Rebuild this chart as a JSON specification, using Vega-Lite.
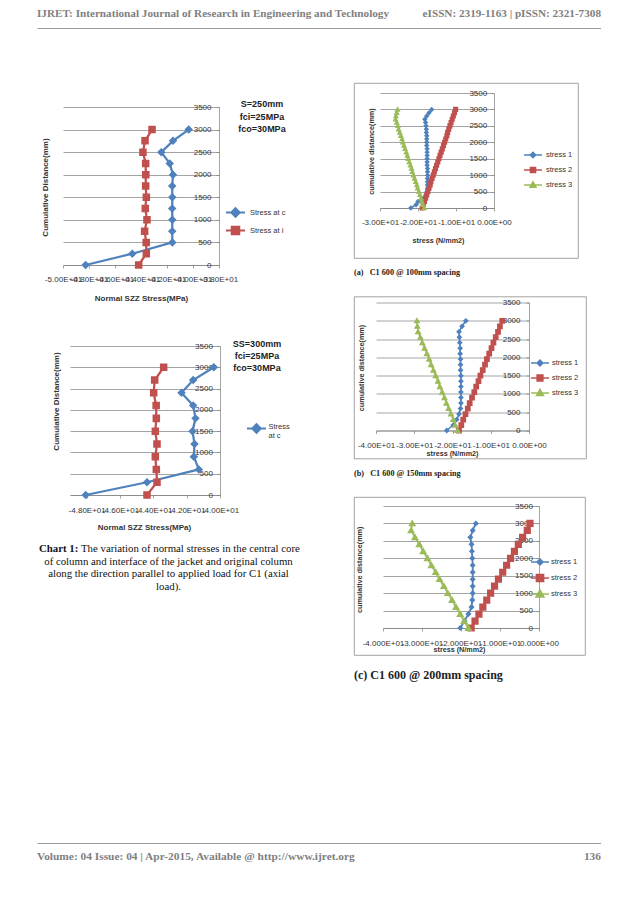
{
  "$schema": "https://vega.github.io/schema/vega-lite/v6.json",
  "padding": {"left": 37, "top": 0, "right": 0, "bottom": 0},
  "background": "white",
  "spacing": 54,
  "resolve": {"scale": {"fill": "independent", "stroke": "independent", "shape": "independent"}},
  "datasets": {
    "c1": [
      {"d":0,"v":-48.26,"s":"Stress at c"},{"d":250,"v":-44.67,"s":"Stress at c"},{"d":500,"v":-41.59,"s":"Stress at c"},{"d":750,"v":-41.6,"s":"Stress at c"},{"d":1000,"v":-41.59,"s":"Stress at c"},{"d":1250,"v":-41.6,"s":"Stress at c"},{"d":1500,"v":-41.59,"s":"Stress at c"},{"d":1750,"v":-41.6,"s":"Stress at c"},{"d":2000,"v":-41.54,"s":"Stress at c"},{"d":2250,"v":-41.79,"s":"Stress at c"},{"d":2500,"v":-42.44,"s":"Stress at c"},{"d":2750,"v":-41.54,"s":"Stress at c"},{"d":3000,"v":-40.33,"s":"Stress at c"},
      {"d":0,"v":-44.18,"s":"Stress at i"},{"d":250,"v":-43.59,"s":"Stress at i"},{"d":500,"v":-43.6,"s":"Stress at i"},{"d":750,"v":-43.72,"s":"Stress at i"},{"d":1000,"v":-43.54,"s":"Stress at i"},{"d":1250,"v":-43.67,"s":"Stress at i"},{"d":1500,"v":-43.59,"s":"Stress at i"},{"d":1750,"v":-43.64,"s":"Stress at i"},{"d":2000,"v":-43.63,"s":"Stress at i"},{"d":2250,"v":-43.64,"s":"Stress at i"},{"d":2500,"v":-43.85,"s":"Stress at i"},{"d":2750,"v":-43.69,"s":"Stress at i"},{"d":3000,"v":-43.15,"s":"Stress at i"}
    ],
    "c2": [
      {"d":0,"v":-48.06,"s":"Stress at c"},{"d":300,"v":-44.38,"s":"Stress at c"},{"d":600,"v":-41.27,"s":"Stress at c"},{"d":900,"v":-41.57,"s":"Stress at c"},{"d":1200,"v":-41.53,"s":"Stress at c"},{"d":1500,"v":-41.65,"s":"Stress at c"},{"d":1800,"v":-41.47,"s":"Stress at c"},{"d":2100,"v":-41.61,"s":"Stress at c"},{"d":2400,"v":-42.31,"s":"Stress at c"},{"d":2700,"v":-41.61,"s":"Stress at c"},{"d":3000,"v":-40.37,"s":"Stress at c"},
      {"d":0,"v":-44.38,"s":"Stress at i"},{"d":300,"v":-43.78,"s":"Stress at i"},{"d":600,"v":-43.82,"s":"Stress at i"},{"d":900,"v":-43.88,"s":"Stress at i"},{"d":1200,"v":-43.78,"s":"Stress at i"},{"d":1500,"v":-43.88,"s":"Stress at i"},{"d":1800,"v":-43.82,"s":"Stress at i"},{"d":2100,"v":-43.83,"s":"Stress at i"},{"d":2400,"v":-43.98,"s":"Stress at i"},{"d":2700,"v":-43.92,"s":"Stress at i"},{"d":3000,"v":-43.38,"s":"Stress at i"}
    ],
    "ca": [
      {"d":0,"v":-21.9,"s":"stress 1"},{"d":100,"v":-20.5,"s":"stress 1"},{"d":200,"v":-20.0,"s":"stress 1"},{"d":300,"v":-18.6,"s":"stress 1"},{"d":400,"v":-17.9,"s":"stress 1"},{"d":500,"v":-17.6,"s":"stress 1"},{"d":600,"v":-17.5,"s":"stress 1"},{"d":700,"v":-17.5,"s":"stress 1"},{"d":800,"v":-17.5,"s":"stress 1"},{"d":900,"v":-17.5,"s":"stress 1"},{"d":1000,"v":-17.5,"s":"stress 1"},{"d":1100,"v":-17.5,"s":"stress 1"},{"d":1200,"v":-17.5,"s":"stress 1"},{"d":1300,"v":-17.6,"s":"stress 1"},{"d":1400,"v":-17.6,"s":"stress 1"},{"d":1500,"v":-17.6,"s":"stress 1"},{"d":1600,"v":-17.6,"s":"stress 1"},{"d":1700,"v":-17.6,"s":"stress 1"},{"d":1800,"v":-17.6,"s":"stress 1"},{"d":1900,"v":-17.7,"s":"stress 1"},{"d":2000,"v":-17.7,"s":"stress 1"},{"d":2100,"v":-17.7,"s":"stress 1"},{"d":2200,"v":-17.7,"s":"stress 1"},{"d":2300,"v":-17.8,"s":"stress 1"},{"d":2400,"v":-17.8,"s":"stress 1"},{"d":2500,"v":-17.9,"s":"stress 1"},{"d":2600,"v":-18.0,"s":"stress 1"},{"d":2700,"v":-18.2,"s":"stress 1"},{"d":2800,"v":-17.7,"s":"stress 1"},{"d":2900,"v":-17.1,"s":"stress 1"},{"d":3000,"v":-16.4,"s":"stress 1"},
      {"d":0,"v":-18.9,"s":"stress 2"},{"d":100,"v":-18.6,"s":"stress 2"},{"d":200,"v":-18.3,"s":"stress 2"},{"d":300,"v":-18.0,"s":"stress 2"},{"d":400,"v":-17.7,"s":"stress 2"},{"d":500,"v":-17.4,"s":"stress 2"},{"d":600,"v":-17.1,"s":"stress 2"},{"d":700,"v":-16.8,"s":"stress 2"},{"d":800,"v":-16.6,"s":"stress 2"},{"d":900,"v":-16.3,"s":"stress 2"},{"d":1000,"v":-16.0,"s":"stress 2"},{"d":1100,"v":-15.7,"s":"stress 2"},{"d":1200,"v":-15.4,"s":"stress 2"},{"d":1300,"v":-15.1,"s":"stress 2"},{"d":1400,"v":-14.8,"s":"stress 2"},{"d":1500,"v":-14.5,"s":"stress 2"},{"d":1600,"v":-14.2,"s":"stress 2"},{"d":1700,"v":-13.9,"s":"stress 2"},{"d":1800,"v":-13.6,"s":"stress 2"},{"d":1900,"v":-13.3,"s":"stress 2"},{"d":2000,"v":-13.0,"s":"stress 2"},{"d":2100,"v":-12.7,"s":"stress 2"},{"d":2200,"v":-12.4,"s":"stress 2"},{"d":2300,"v":-12.2,"s":"stress 2"},{"d":2400,"v":-11.9,"s":"stress 2"},{"d":2500,"v":-11.6,"s":"stress 2"},{"d":2600,"v":-11.3,"s":"stress 2"},{"d":2700,"v":-11.0,"s":"stress 2"},{"d":2800,"v":-10.7,"s":"stress 2"},{"d":2900,"v":-10.4,"s":"stress 2"},{"d":3000,"v":-10.1,"s":"stress 2"},
      {"d":0,"v":-18.4,"s":"stress 3"},{"d":100,"v":-18.7,"s":"stress 3"},{"d":200,"v":-19.0,"s":"stress 3"},{"d":300,"v":-19.2,"s":"stress 3"},{"d":400,"v":-19.5,"s":"stress 3"},{"d":500,"v":-19.8,"s":"stress 3"},{"d":600,"v":-20.1,"s":"stress 3"},{"d":700,"v":-20.3,"s":"stress 3"},{"d":800,"v":-20.6,"s":"stress 3"},{"d":900,"v":-20.9,"s":"stress 3"},{"d":1000,"v":-21.2,"s":"stress 3"},{"d":1100,"v":-21.5,"s":"stress 3"},{"d":1200,"v":-21.7,"s":"stress 3"},{"d":1300,"v":-22.0,"s":"stress 3"},{"d":1400,"v":-22.3,"s":"stress 3"},{"d":1500,"v":-22.6,"s":"stress 3"},{"d":1600,"v":-22.8,"s":"stress 3"},{"d":1700,"v":-23.1,"s":"stress 3"},{"d":1800,"v":-23.4,"s":"stress 3"},{"d":1900,"v":-23.7,"s":"stress 3"},{"d":2000,"v":-24.0,"s":"stress 3"},{"d":2100,"v":-24.2,"s":"stress 3"},{"d":2200,"v":-24.5,"s":"stress 3"},{"d":2300,"v":-24.8,"s":"stress 3"},{"d":2400,"v":-25.1,"s":"stress 3"},{"d":2500,"v":-25.3,"s":"stress 3"},{"d":2600,"v":-25.6,"s":"stress 3"},{"d":2700,"v":-25.9,"s":"stress 3"},{"d":2800,"v":-25.8,"s":"stress 3"},{"d":2900,"v":-25.6,"s":"stress 3"},{"d":3000,"v":-25.4,"s":"stress 3"}
    ],
    "cb": [
      {"d":0,"v":-21.5,"s":"stress 1"},{"d":150,"v":-19.8,"s":"stress 1"},{"d":300,"v":-18.9,"s":"stress 1"},{"d":450,"v":-18.3,"s":"stress 1"},{"d":600,"v":-17.9,"s":"stress 1"},{"d":750,"v":-17.8,"s":"stress 1"},{"d":900,"v":-17.8,"s":"stress 1"},{"d":1050,"v":-17.8,"s":"stress 1"},{"d":1200,"v":-17.8,"s":"stress 1"},{"d":1350,"v":-17.8,"s":"stress 1"},{"d":1500,"v":-17.8,"s":"stress 1"},{"d":1650,"v":-17.9,"s":"stress 1"},{"d":1800,"v":-17.9,"s":"stress 1"},{"d":1950,"v":-17.9,"s":"stress 1"},{"d":2100,"v":-18.0,"s":"stress 1"},{"d":2250,"v":-18.0,"s":"stress 1"},{"d":2400,"v":-18.1,"s":"stress 1"},{"d":2550,"v":-18.2,"s":"stress 1"},{"d":2700,"v":-18.3,"s":"stress 1"},{"d":2850,"v":-17.5,"s":"stress 1"},{"d":3000,"v":-16.5,"s":"stress 1"},
      {"d":0,"v":-18.3,"s":"stress 2"},{"d":150,"v":-17.7,"s":"stress 2"},{"d":300,"v":-17.2,"s":"stress 2"},{"d":450,"v":-16.6,"s":"stress 2"},{"d":600,"v":-16.0,"s":"stress 2"},{"d":750,"v":-15.5,"s":"stress 2"},{"d":900,"v":-14.9,"s":"stress 2"},{"d":1050,"v":-14.3,"s":"stress 2"},{"d":1200,"v":-13.8,"s":"stress 2"},{"d":1350,"v":-13.2,"s":"stress 2"},{"d":1500,"v":-12.7,"s":"stress 2"},{"d":1650,"v":-12.1,"s":"stress 2"},{"d":1800,"v":-11.5,"s":"stress 2"},{"d":1950,"v":-11.0,"s":"stress 2"},{"d":2100,"v":-10.4,"s":"stress 2"},{"d":2250,"v":-9.8,"s":"stress 2"},{"d":2400,"v":-9.3,"s":"stress 2"},{"d":2550,"v":-8.7,"s":"stress 2"},{"d":2700,"v":-8.1,"s":"stress 2"},{"d":2850,"v":-7.6,"s":"stress 2"},{"d":3000,"v":-7.0,"s":"stress 2"},
      {"d":0,"v":-18.7,"s":"stress 3"},{"d":150,"v":-19.3,"s":"stress 3"},{"d":300,"v":-19.8,"s":"stress 3"},{"d":450,"v":-20.4,"s":"stress 3"},{"d":600,"v":-21.0,"s":"stress 3"},{"d":750,"v":-21.6,"s":"stress 3"},{"d":900,"v":-22.1,"s":"stress 3"},{"d":1050,"v":-22.7,"s":"stress 3"},{"d":1200,"v":-23.3,"s":"stress 3"},{"d":1350,"v":-23.8,"s":"stress 3"},{"d":1500,"v":-24.4,"s":"stress 3"},{"d":1650,"v":-25.0,"s":"stress 3"},{"d":1800,"v":-25.6,"s":"stress 3"},{"d":1950,"v":-26.1,"s":"stress 3"},{"d":2100,"v":-26.7,"s":"stress 3"},{"d":2250,"v":-27.3,"s":"stress 3"},{"d":2400,"v":-27.9,"s":"stress 3"},{"d":2550,"v":-28.4,"s":"stress 3"},{"d":2700,"v":-29.0,"s":"stress 3"},{"d":2850,"v":-29.2,"s":"stress 3"},{"d":3000,"v":-29.3,"s":"stress 3"}
    ],
    "cc": [
      {"d":0,"v":-20.2,"s":"stress 1"},{"d":200,"v":-19.1,"s":"stress 1"},{"d":400,"v":-18.1,"s":"stress 1"},{"d":600,"v":-17.3,"s":"stress 1"},{"d":800,"v":-17.1,"s":"stress 1"},{"d":1000,"v":-17.0,"s":"stress 1"},{"d":1200,"v":-17.0,"s":"stress 1"},{"d":1400,"v":-17.0,"s":"stress 1"},{"d":1600,"v":-17.0,"s":"stress 1"},{"d":1800,"v":-17.0,"s":"stress 1"},{"d":2000,"v":-17.1,"s":"stress 1"},{"d":2200,"v":-17.2,"s":"stress 1"},{"d":2400,"v":-17.3,"s":"stress 1"},{"d":2600,"v":-17.6,"s":"stress 1"},{"d":2800,"v":-17.0,"s":"stress 1"},{"d":3000,"v":-16.2,"s":"stress 1"},
      {"d":0,"v":-17.4,"s":"stress 2"},{"d":200,"v":-16.4,"s":"stress 2"},{"d":400,"v":-15.4,"s":"stress 2"},{"d":600,"v":-14.4,"s":"stress 2"},{"d":800,"v":-13.4,"s":"stress 2"},{"d":1000,"v":-12.4,"s":"stress 2"},{"d":1200,"v":-11.4,"s":"stress 2"},{"d":1400,"v":-10.4,"s":"stress 2"},{"d":1600,"v":-9.3,"s":"stress 2"},{"d":1800,"v":-8.3,"s":"stress 2"},{"d":2000,"v":-7.3,"s":"stress 2"},{"d":2200,"v":-6.3,"s":"stress 2"},{"d":2400,"v":-5.3,"s":"stress 2"},{"d":2600,"v":-4.2,"s":"stress 2"},{"d":2800,"v":-3.0,"s":"stress 2"},{"d":3000,"v":-2.3,"s":"stress 2"},
      {"d":0,"v":-18.1,"s":"stress 3"},{"d":200,"v":-19.2,"s":"stress 3"},{"d":400,"v":-20.2,"s":"stress 3"},{"d":600,"v":-21.3,"s":"stress 3"},{"d":800,"v":-22.3,"s":"stress 3"},{"d":1000,"v":-23.4,"s":"stress 3"},{"d":1200,"v":-24.4,"s":"stress 3"},{"d":1400,"v":-25.5,"s":"stress 3"},{"d":1600,"v":-26.5,"s":"stress 3"},{"d":1800,"v":-27.6,"s":"stress 3"},{"d":2000,"v":-28.6,"s":"stress 3"},{"d":2200,"v":-29.7,"s":"stress 3"},{"d":2400,"v":-30.7,"s":"stress 3"},{"d":2600,"v":-31.8,"s":"stress 3"},{"d":2800,"v":-32.8,"s":"stress 3"},{"d":3000,"v":-32.5,"s":"stress 3"}
    ]
  },
  "vconcat": [
    {
      "width": 564, "height": 28,
      "data": {"values": [{"side": "l", "t": "IJRET: International Journal of Research in Engineering and Technology"}, {"side": "r", "t": "eISSN: 2319-1163 | pISSN: 2321-7308"}]},
      "encoding": {
        "x": {"field": "side", "type": "nominal", "scale": {"type": "point", "domain": ["l", "r"], "padding": 0}, "axis": {"orient": "bottom", "labels": false, "ticks": false, "domain": true, "grid": false, "title": null, "domainColor": "#9a9a9a", "domainWidth": 1}},
        "text": {"field": "t", "type": "nominal"}
      },
      "layer": [
        {"transform": [{"filter": "datum.side == 'l'"}], "mark": {"type": "text", "align": "left", "baseline": "middle", "font": "Liberation Serif", "fontSize": 11.2, "fontWeight": "bold", "color": "#7f7f7f"}},
        {"transform": [{"filter": "datum.side == 'r'"}], "mark": {"type": "text", "align": "right", "baseline": "middle", "font": "Liberation Serif", "fontSize": 11.2, "fontWeight": "bold", "color": "#7f7f7f"}}
      ]
    },
    {
      "resolve": {"scale": {"fill": "independent", "stroke": "independent", "shape": "independent"}},
      "spacing": 16,
      "hconcat": [
        {
          "resolve": {"scale": {"fill": "independent", "stroke": "independent", "shape": "independent"}},
          "spacing": 0,
          "bounds": "flush",
          "vconcat": [
            {
              "width": 300, "height": 225,
              "data": {"name": "c1"},
              "title": {"text": ["S=250mm", "fci=25MPa", "fco=30MPa"], "orient": "top", "frame": "group", "anchor": "start", "align": "center", "baseline": "middle", "dx": 225, "offset": -55, "fontSize": 9, "fontWeight": "bold", "font": "Liberation Sans", "lineHeight": 12.3, "color": "#222222"},
              "encoding": {
                "x": {"field": "v", "type": "quantitative", "scale": {"domain": [-50, -38], "range": [26, 182], "nice": false, "zero": false},
                  "axis": {"orient": "bottom", "offset": -43, "values": [-50, -48, -46, -44, -42, -40, -38], "labelExpr": "(datum.value < 0 ? '-' : '') + format(abs(datum.value)/10, '.2f') + (datum.value == 0 ? 'E+00' : 'E+01')", "grid": false, "labelBaseline": "middle", "labelPadding": 11.3, "title": "Normal SZZ Stress(MPa)", "titleX": 104, "titleY": 33, "titleAlign": "center", "titleBaseline": "middle"}},
                "y": {"field": "d", "type": "quantitative", "scale": {"domain": [0, 3500], "range": [182, 24], "nice": false, "zero": false},
                  "axis": {"orient": "left", "offset": -182, "values": [0, 500, 1000, 1500, 2000, 2500, 3000, 3500], "format": "d", "grid": true, "labelPadding": 5, "title": "Cumulative Distance(mm)", "titleX": -174, "titleY": 104, "titleAngle": 270, "titleAlign": "center", "titleBaseline": "middle"}}
              },
              "layer": [
                {"mark": {"type": "line", "strokeWidth": 2.25},
                  "encoding": {"stroke": {"field": "s", "type": "nominal", "scale": {"domain": ["Stress at c", "Stress at i"], "range": ["#4F81BD", "#C0504D"]},
                    "legend": {"orient": "none", "legendX": 189.5, "legendY": 120.5, "title": null, "direction": "vertical", "symbolSize": 256, "symbolStrokeWidth": 2, "labelOffset": 5.5, "labelFontSize": 7.5, "labelBaseline": "middle", "rowPadding": -0.6}},
                    "order": {"field": "d", "type": "quantitative"}}},
                {"mark": {"type": "point", "filled": true, "opacity": 1, "size": 256, "strokeWidth": 0},
                  "encoding": {
                    "fill": {"field": "s", "type": "nominal", "scale": {"domain": ["Stress at c", "Stress at i"], "range": ["#4F81BD", "#C0504D"]},
                      "legend": {"orient": "none", "legendX": 189.5, "legendY": 120.5, "title": null, "direction": "vertical", "symbolSize": 256, "symbolStrokeWidth": 2, "labelOffset": 5.5, "labelFontSize": 7.5, "labelBaseline": "middle", "rowPadding": -0.6}},
                    "shape": {"field": "s", "type": "nominal", "scale": {"domain": ["Stress at c", "Stress at i"], "range": ["M-1.19,0H1.19M0,-0.53L0.53,0L0,0.53L-0.53,0Z", "M-1.19,0H1.19M-0.47,-0.47H0.47V0.47H-0.47Z"]},
                      "legend": {"orient": "none", "legendX": 189.5, "legendY": 120.5, "title": null, "direction": "vertical", "symbolSize": 256, "symbolStrokeWidth": 2, "labelOffset": 5.5, "labelFontSize": 7.5, "labelBaseline": "middle", "rowPadding": -0.6}}}}
              ]
            },
            {
              "width": 300, "height": 223,
              "data": {"name": "c2"},
              "title": {"text": ["SS=300mm", "fci=25MPa", "fco=30MPa"], "orient": "top", "frame": "group", "anchor": "start", "align": "center", "baseline": "middle", "dx": 220, "offset": -69, "fontSize": 9, "fontWeight": "bold", "font": "Liberation Sans", "lineHeight": 12, "color": "#222222"},
              "encoding": {
                "x": {"field": "v", "type": "quantitative", "scale": {"domain": [-49, -40], "range": [33, 183], "nice": false, "zero": false},
                  "axis": {"orient": "bottom", "offset": -36, "values": [-48, -46, -44, -42, -40], "labelExpr": "(datum.value < 0 ? '-' : '') + format(abs(datum.value)/10, '.2f') + (datum.value == 0 ? 'E+00' : 'E+01')", "grid": false, "labelBaseline": "middle", "labelPadding": 12.3, "title": "Normal SZZ Stress(MPa)", "titleX": 107, "titleY": 32, "titleAlign": "center", "titleBaseline": "middle"}},
                "y": {"field": "d", "type": "quantitative", "scale": {"domain": [0, 3500], "range": [187, 38], "nice": false, "zero": false},
                  "axis": {"orient": "left", "offset": -183, "values": [0, 500, 1000, 1500, 2000, 2500, 3000, 3500], "format": "d", "grid": true, "labelPadding": 4.6, "title": "Cumulative Distance(mm)", "titleX": -163.3, "titleY": 93, "titleAngle": 270, "titleAlign": "center", "titleBaseline": "middle"}}
              },
              "layer": [
                {"mark": {"type": "line", "strokeWidth": 2.25},
                  "encoding": {"stroke": {"field": "s", "type": "nominal", "scale": {"domain": ["Stress at c", "Stress at i"], "range": ["#4F81BD", "#C0504D"]},
                    "legend": {"orient": "none", "legendX": 210.5, "legendY": 111.5, "title": null, "values": ["Stress at c"], "labelExpr": "['Stress', 'at c']", "direction": "vertical", "symbolSize": 256, "symbolStrokeWidth": 2, "labelOffset": 3, "labelFontSize": 7.5, "labelBaseline": "alphabetic", "labelLineHeight": 10}},
                    "order": {"field": "d", "type": "quantitative"}}},
                {"mark": {"type": "point", "filled": true, "opacity": 1, "size": 256, "strokeWidth": 0},
                  "encoding": {
                    "fill": {"field": "s", "type": "nominal", "scale": {"domain": ["Stress at c", "Stress at i"], "range": ["#4F81BD", "#C0504D"]},
                      "legend": {"orient": "none", "legendX": 210.5, "legendY": 111.5, "title": null, "values": ["Stress at c"], "labelExpr": "['Stress', 'at c']", "direction": "vertical", "symbolSize": 256, "symbolStrokeWidth": 2, "labelOffset": 3, "labelFontSize": 7.5, "labelBaseline": "alphabetic", "labelLineHeight": 10}},
                    "shape": {"field": "s", "type": "nominal", "scale": {"domain": ["Stress at c", "Stress at i"], "range": ["M-1.19,0H1.19M0,-0.53L0.53,0L0,0.53L-0.53,0Z", "M-1.19,0H1.19M-0.47,-0.47H0.47V0.47H-0.47Z"]},
                      "legend": {"orient": "none", "legendX": 210.5, "legendY": 111.5, "title": null, "values": ["Stress at c"], "labelExpr": "['Stress', 'at c']", "direction": "vertical", "symbolSize": 256, "symbolStrokeWidth": 2, "labelOffset": 3, "labelFontSize": 7.5, "labelBaseline": "alphabetic", "labelLineHeight": 10}}}}
              ]
            },
            {
              "width": 263, "height": 258,
              "data": {"values": [
                {"line": 1, "part": "b", "t": "Chart 1:"},
                {"line": 1, "part": "r", "t": "The variation of normal stresses in the central core"},
                {"line": 2, "part": "c", "t": "of column and interface of the jacket and original column"},
                {"line": 3, "part": "c", "t": "along the direction parallel to applied load for C1 (axial"},
                {"line": 4, "part": "c", "t": "load)."}
              ]},
              "encoding": {
                "y": {"field": "line", "type": "ordinal", "scale": {"type": "point", "domain": [1, 2, 3, 4], "range": [18, 56], "padding": 0}, "axis": null},
                "text": {"field": "t", "type": "nominal"}
              },
              "layer": [
                {"transform": [{"filter": "datum.part == 'c'"}], "mark": {"type": "text", "align": "center", "baseline": "middle", "font": "Liberation Serif", "fontSize": 10.8, "color": "#111111"}},
                {"transform": [{"filter": "datum.part == 'b'"}], "mark": {"type": "text", "align": "left", "baseline": "middle", "dx": -129.5, "font": "Liberation Serif", "fontSize": 10.8, "fontWeight": "bold", "color": "#111111"}},
                {"transform": [{"filter": "datum.part == 'r'"}], "mark": {"type": "text", "align": "left", "baseline": "middle", "dx": -87.5, "font": "Liberation Serif", "fontSize": 10.8, "color": "#111111"}}
              ]
            }
          ]
        },
        {
          "resolve": {"scale": {"fill": "independent", "stroke": "independent", "shape": "independent"}},
          "spacing": 38.5,
          "bounds": "flush",
          "vconcat": [
            {
              "width": 224, "height": 175,
              "view": {"stroke": "#8c8c8c", "strokeWidth": 0.8},
              "data": {"name": "ca"},
              "title": {"text": "(a)\u00a0\u00a0\u00a0C1 600 @ 100mm spacing", "orient": "bottom", "frame": "group", "anchor": "start", "align": "left", "baseline": "middle", "offset": 15, "dx": 0, "font": "Liberation Serif", "fontSize": 8.2, "fontWeight": "bold", "color": "#222222"},
              "encoding": {
                "x": {"field": "v", "type": "quantitative", "scale": {"domain": [-30, 0], "range": [26, 140], "nice": false, "zero": false},
                  "axis": {"orient": "bottom", "offset": -50, "values": [-30, -20, -10, 0], "labelExpr": "(datum.value < 0 ? '-' : '') + format(abs(datum.value)/10, '.2f') + (datum.value == 0 ? 'E+00' : 'E+01')", "grid": false, "labelBaseline": "middle", "labelPadding": 11.7, "title": "stress (N/mm2)", "titleFontSize": 7.2, "titleX": 84, "titleY": 32, "titleAlign": "center", "titleBaseline": "middle"}},
                "y": {"field": "d", "type": "quantitative", "scale": {"domain": [0, 3500], "range": [125, 10], "nice": false, "zero": false},
                  "axis": {"orient": "left", "offset": -140, "values": [0, 500, 1000, 1500, 2000, 2500, 3000, 3500], "format": "d", "grid": true, "labelPadding": 4.3, "title": "cumulative distance(mm)", "titleFontSize": 7.2, "titleX": -123, "titleY": 68, "titleAngle": 270, "titleAlign": "center", "titleBaseline": "middle"}}
              },
              "layer": [
                {"mark": {"type": "line", "strokeWidth": 1.5},
                  "encoding": {"stroke": {"field": "s", "type": "nominal", "scale": {"domain": ["stress 1", "stress 2", "stress 3"], "range": ["#4F81BD", "#C0504D", "#9BBB59"]},
                    "legend": {"orient": "none", "legendX": 170, "legendY": 63, "title": null, "direction": "vertical", "symbolSize": 256, "symbolStrokeWidth": 1.5, "labelOffset": 4, "labelFontSize": 7.5, "labelBaseline": "middle", "rowPadding": 0}},
                    "order": {"field": "d", "type": "quantitative"}}},
                {"mark": {"type": "point", "filled": true, "opacity": 1, "size": 256, "strokeWidth": 0},
                  "encoding": {
                    "fill": {"field": "s", "type": "nominal", "scale": {"domain": ["stress 1", "stress 2", "stress 3"], "range": ["#4F81BD", "#C0504D", "#9BBB59"]},
                      "legend": {"orient": "none", "legendX": 170, "legendY": 63, "title": null, "direction": "vertical", "symbolSize": 256, "symbolStrokeWidth": 1.5, "labelOffset": 4, "labelFontSize": 7.5, "labelBaseline": "middle", "rowPadding": 0}},
                    "shape": {"field": "s", "type": "nominal", "scale": {"domain": ["stress 1", "stress 2", "stress 3"], "range": ["M-1.125,0H1.125M0,-0.34L0.34,0L0,0.34L-0.34,0Z", "M-1.125,0H1.125M-0.32,-0.32H0.32V0.32H-0.32Z", "M-1.125,0H1.125M0,-0.4L0.38,0.28L-0.38,0.28Z"]},
                      "legend": {"orient": "none", "legendX": 170, "legendY": 63, "title": null, "direction": "vertical", "symbolSize": 256, "symbolStrokeWidth": 1.5, "labelOffset": 4, "labelFontSize": 7.5, "labelBaseline": "middle", "rowPadding": 0}}}}
              ]
            },
            {
              "width": 232, "height": 162,
              "view": {"stroke": "#8c8c8c", "strokeWidth": 0.8},
              "data": {"name": "cb"},
              "title": {"text": "(b)\u00a0\u00a0\u00a0C1 600 @ 150mm spacing", "orient": "bottom", "frame": "group", "anchor": "start", "align": "left", "baseline": "middle", "offset": 15.5, "dx": 0, "font": "Liberation Serif", "fontSize": 8.2, "fontWeight": "bold", "color": "#222222"},
              "encoding": {
                "x": {"field": "v", "type": "quantitative", "scale": {"domain": [-40, 0], "range": [22, 175], "nice": false, "zero": false},
                  "axis": {"orient": "bottom", "offset": -28, "values": [-40, -30, -20, -10, 0], "labelExpr": "(datum.value < 0 ? '-' : '') + format(abs(datum.value)/10, '.2f') + (datum.value == 0 ? 'E+00' : 'E+01')", "grid": false, "labelBaseline": "middle", "labelPadding": 12.3, "title": "stress (N/mm2)", "titleFontSize": 7.2, "titleX": 98, "titleY": 23, "titleAlign": "center", "titleBaseline": "middle"}},
                "y": {"field": "d", "type": "quantitative", "scale": {"domain": [0, 3500], "range": [134, 6], "nice": false, "zero": false},
                  "axis": {"orient": "left", "offset": -175, "values": [0, 500, 1000, 1500, 2000, 2500, 3000, 3500], "format": "d", "grid": true, "labelPadding": 6, "title": "cumulative distance(mm)", "titleFontSize": 7.2, "titleX": -168, "titleY": 71, "titleAngle": 270, "titleAlign": "center", "titleBaseline": "middle"}}
              },
              "layer": [
                {"mark": {"type": "line", "strokeWidth": 1.6},
                  "encoding": {"stroke": {"field": "s", "type": "nominal", "scale": {"domain": ["stress 1", "stress 2", "stress 3"], "range": ["#4F81BD", "#C0504D", "#9BBB59"]},
                    "legend": {"orient": "none", "legendX": 177, "legendY": 57.5, "title": null, "direction": "vertical", "symbolSize": 256, "symbolStrokeWidth": 1.5, "labelOffset": 3, "labelFontSize": 7.5, "labelBaseline": "middle", "rowPadding": 0}},
                    "order": {"field": "d", "type": "quantitative"}}},
                {"mark": {"type": "point", "filled": true, "opacity": 1, "size": 256, "strokeWidth": 0},
                  "encoding": {
                    "fill": {"field": "s", "type": "nominal", "scale": {"domain": ["stress 1", "stress 2", "stress 3"], "range": ["#4F81BD", "#C0504D", "#9BBB59"]},
                      "legend": {"orient": "none", "legendX": 177, "legendY": 57.5, "title": null, "direction": "vertical", "symbolSize": 256, "symbolStrokeWidth": 1.5, "labelOffset": 3, "labelFontSize": 7.5, "labelBaseline": "middle", "rowPadding": 0}},
                    "shape": {"field": "s", "type": "nominal", "scale": {"domain": ["stress 1", "stress 2", "stress 3"], "range": ["M-1.125,0H1.125M0,-0.36L0.36,0L0,0.36L-0.36,0Z", "M-1.125,0H1.125M-0.36,-0.36H0.36V0.36H-0.36Z", "M-1.125,0H1.125M0,-0.45L0.43,0.32L-0.43,0.32Z"]},
                      "legend": {"orient": "none", "legendX": 177, "legendY": 57.5, "title": null, "direction": "vertical", "symbolSize": 256, "symbolStrokeWidth": 1.5, "labelOffset": 3, "labelFontSize": 7.5, "labelBaseline": "middle", "rowPadding": 0}}}}
              ]
            },
            {
              "width": 231, "height": 158,
              "view": {"stroke": "#8c8c8c", "strokeWidth": 0.8},
              "data": {"name": "cc"},
              "title": {"text": "(c) C1 600 @ 200mm spacing", "orient": "bottom", "frame": "group", "anchor": "start", "align": "left", "baseline": "middle", "offset": 20, "dx": 0, "font": "Liberation Serif", "fontSize": 12, "fontWeight": "bold", "color": "#222222"},
              "encoding": {
                "x": {"field": "v", "type": "quantitative", "scale": {"domain": [-40, 0], "range": [29, 185], "nice": false, "zero": false},
                  "axis": {"orient": "bottom", "offset": -27, "values": [-40, -30, -20, -10, 0], "labelExpr": "(datum.value < 0 ? '-' : '') + format(abs(datum.value)/10, '.3f') + (datum.value == 0 ? 'E+00' : 'E+01')", "grid": false, "labelBaseline": "middle", "labelPadding": 12.7, "title": "stress (N/mm2)", "titleFontSize": 7.2, "titleX": 105, "titleY": 21.7, "titleAlign": "center", "titleBaseline": "middle"}},
                "y": {"field": "d", "type": "quantitative", "scale": {"domain": [0, 3500], "range": [131, 9], "nice": false, "zero": false},
                  "axis": {"orient": "left", "offset": -185, "values": [0, 500, 1000, 1500, 2000, 2500, 3000, 3500], "format": "d", "grid": true, "labelPadding": 3.6, "title": "cumulative distance(mm)", "titleFontSize": 7.2, "titleX": -179.7, "titleY": 72.3, "titleAngle": 270, "titleAlign": "center", "titleBaseline": "middle"}}
              },
              "layer": [
                {"mark": {"type": "line", "strokeWidth": 1.8},
                  "encoding": {"stroke": {"field": "s", "type": "nominal", "scale": {"domain": ["stress 1", "stress 2", "stress 3"], "range": ["#4F81BD", "#C0504D", "#9BBB59"]},
                    "legend": {"orient": "none", "legendX": 177, "legendY": 56, "title": null, "direction": "vertical", "symbolSize": 256, "symbolStrokeWidth": 1.5, "labelOffset": 2, "labelFontSize": 7.5, "labelBaseline": "middle", "rowPadding": 0}},
                    "order": {"field": "d", "type": "quantitative"}}},
                {"mark": {"type": "point", "filled": true, "opacity": 1, "size": 256, "strokeWidth": 0},
                  "encoding": {
                    "fill": {"field": "s", "type": "nominal", "scale": {"domain": ["stress 1", "stress 2", "stress 3"], "range": ["#4F81BD", "#C0504D", "#9BBB59"]},
                      "legend": {"orient": "none", "legendX": 177, "legendY": 56, "title": null, "direction": "vertical", "symbolSize": 256, "symbolStrokeWidth": 1.5, "labelOffset": 2, "labelFontSize": 7.5, "labelBaseline": "middle", "rowPadding": 0}},
                    "shape": {"field": "s", "type": "nominal", "scale": {"domain": ["stress 1", "stress 2", "stress 3"], "range": ["M-1.125,0H1.125M0,-0.38L0.38,0L0,0.38L-0.38,0Z", "M-1.125,0H1.125M-0.45,-0.45H0.45V0.45H-0.45Z", "M-1.125,0H1.125M0,-0.5L0.5,0.36L-0.5,0.36Z"]},
                      "legend": {"orient": "none", "legendX": 177, "legendY": 56, "title": null, "direction": "vertical", "symbolSize": 256, "symbolStrokeWidth": 1.5, "labelOffset": 2, "labelFontSize": 7.5, "labelBaseline": "middle", "rowPadding": 0}}}}
              ]
            }
          ]
        }
      ]
    },
    {
      "width": 564, "height": 28,
      "data": {"values": [{"side": "l", "t": "Volume: 04 Issue: 04 | Apr-2015, Available @ http://www.ijret.org"}, {"side": "r", "t": "136"}]},
      "encoding": {
        "x": {"field": "side", "type": "nominal", "scale": {"type": "point", "domain": ["l", "r"], "padding": 0}, "axis": {"orient": "top", "labels": false, "ticks": false, "domain": true, "grid": false, "title": null, "domainColor": "#9a9a9a", "domainWidth": 1}},
        "text": {"field": "t", "type": "nominal"}
      },
      "layer": [
        {"transform": [{"filter": "datum.side == 'l'"}], "mark": {"type": "text", "align": "left", "baseline": "middle", "font": "Liberation Serif", "fontSize": 11.4, "fontWeight": "bold", "color": "#7f7f7f"}},
        {"transform": [{"filter": "datum.side == 'r'"}], "mark": {"type": "text", "align": "right", "baseline": "middle", "font": "Liberation Serif", "fontSize": 11.4, "fontWeight": "bold", "color": "#7f7f7f"}}
      ]
    }
  ],
  "config": {
    "view": {"stroke": null},
    "font": "Liberation Sans",
    "axis": {"labelFont": "Liberation Sans", "labelFontSize": 8, "labelColor": "#333333", "titleFont": "Liberation Sans", "titleFontSize": 8, "titleFontWeight": "bold", "titleColor": "#333333", "domainColor": "#868686", "domainWidth": 0.75, "tickColor": "#868686", "tickWidth": 0.75, "tickSize": 3, "gridColor": "#868686", "gridWidth": 0.75, "labelFlush": false, "labelOverlap": false, "labelBound": false},
    "legend": {"labelFont": "Liberation Sans", "labelColor": "#333333", "padding": 0},
    "title": {"font": "Liberation Sans"}
  }
}
